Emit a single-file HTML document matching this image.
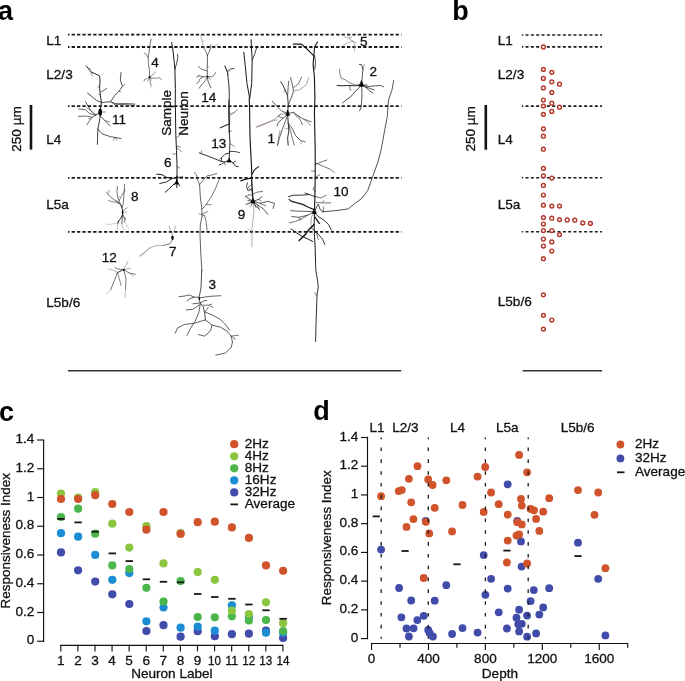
<!DOCTYPE html>
<html><head><meta charset="utf-8"><title>Figure</title>
<style>
html,body{margin:0;padding:0;background:#fff;}
body{width:685px;height:681px;overflow:hidden;}
svg{display:block;}
text{font-family:"Liberation Sans",sans-serif;fill:#111;}
.t{stroke:#111;stroke-width:0.3px;}
.t{font-size:13.55px;}
.pl{font-size:27px;font-weight:bold;fill:#000;}
.dash{stroke:#1a1a1a;stroke-width:1.8;stroke-dasharray:3.3 2.1;stroke-dashoffset:1.8;fill:none;}
.dashb{stroke:#1a1a1a;stroke-width:1.6;stroke-dasharray:3 2.33;stroke-dashoffset:1.7;fill:none;}
.ax{stroke:#111;stroke-width:1.15;fill:none;}
.n path{fill:none;stroke-linecap:round;stroke-linejoin:round;}
</style></head><body>
<svg width="685" height="681" viewBox="0 0 685 681">
<rect x="0" y="0" width="685" height="681" fill="#ffffff"/>
<text class="pl" x="-2.0" y="20.0" text-anchor="start">a</text>
<text class="pl" x="452.2" y="20.0" text-anchor="start">b</text>
<text class="pl" x="-1.1" y="420.8" text-anchor="start">c</text>
<text class="pl" x="313.2" y="419.9" text-anchor="start">d</text>
<g id="panel-a">
<path class="dash" d="M68 34.6 H401.5"/>
<path class="dash" d="M68 47.0 H401.5"/>
<path class="dash" d="M68 106.2 H401.5"/>
<path class="dash" d="M68 177.9 H401.5"/>
<path class="dash" d="M68 231.8 H401.5"/>
<path d="M68 370.7 H401.2" stroke="#333" stroke-width="1.6" fill="none"/>
<text class="t" x="46.3" y="44.8" text-anchor="start">L1</text>
<text class="t" x="46.3" y="78.8" text-anchor="start">L2/3</text>
<text class="t" x="46.3" y="143.8" text-anchor="start">L4</text>
<text class="t" x="46.3" y="209.3" text-anchor="start">L5a</text>
<text class="t" x="46.3" y="306.6" text-anchor="start">L5b/6</text>
<path d="M31 105 V149.6" stroke="#111" stroke-width="2.6" fill="none"/>
<text class="t" transform="translate(21.1 151.7) rotate(-90)" text-anchor="start">250 µm</text>
<text class="t" transform="translate(171.4 135.8) rotate(-90)" text-anchor="start">Sample</text>
<text class="t" transform="translate(187.9 135.7) rotate(-90)" text-anchor="start">Neuron</text>
<text class="t" x="267.6" y="142.8" text-anchor="start">1</text>
<text class="t" x="369.4" y="75.6" text-anchor="start">2</text>
<text class="t" x="208.4" y="289.1" text-anchor="start">3</text>
<text class="t" x="151.2" y="67.0" text-anchor="start">4</text>
<text class="t" x="360.1" y="45.9" text-anchor="start">5</text>
<text class="t" x="164.1" y="166.8" text-anchor="start">6</text>
<text class="t" x="169.1" y="256.2" text-anchor="start">7</text>
<text class="t" x="130.9" y="201.4" text-anchor="start">8</text>
<text class="t" x="237.8" y="219.3" text-anchor="start">9</text>
<text class="t" x="333.5" y="196.0" text-anchor="start">10</text>
<text class="t" x="112.0" y="124.4" text-anchor="start">11</text>
<text class="t" x="101.7" y="261.9" text-anchor="start">12</text>
<text class="t" x="211.3" y="147.6" text-anchor="start">13</text>
<text class="t" x="201.3" y="101.5" text-anchor="start">14</text>
<g class="n">
<path d="M100.2 110.1 L101.4 102.5 L100.4 95.5 L99.6 88.5 L100.0 80.1 L99.6 75.9 L95.1 73.8 L90.9 71.8 L88.2 68.3 L86.1 65.9" stroke="#1a1a1a" stroke-width="0.95"/>
<path d="M90.9 71.8 L92.3 76.2" stroke="#383838" stroke-width="0.55"/>
<path d="M88.2 68.3 L90.5 69.0" stroke="#383838" stroke-width="0.55"/>
<path d="M99.6 88.5 L97.6 86.0" stroke="#383838" stroke-width="0.55"/>
<path d="M101.0 92.0 L106.6 88.5" stroke="#1a1a1a" stroke-width="0.65"/>
<path d="M100.4 95.5 L98.3 94.1" stroke="#383838" stroke-width="0.55"/>
<path d="M101.4 102.5 L110.5 101.8 L114.7 95.5 L118.9 91.3 L122.4 86.4 L120.3 80.1 L121.0 72.5" stroke="#1a1a1a" stroke-width="0.75"/>
<path d="M122.4 86.4 L125.0 84.5" stroke="#383838" stroke-width="0.55"/>
<path d="M118.9 91.3 L121.1 91.7" stroke="#383838" stroke-width="0.55"/>
<path d="M110.5 101.8 L116.1 103.9 L125.8 103.6 L134.9 104.1" stroke="#1a1a1a" stroke-width="0.75"/>
<path d="M111.9 102.5 L118.2 107.1" stroke="#1a1a1a" stroke-width="0.65"/>
<path d="M116.1 104.1 L125.8 104.8 L134.5 105.4" stroke="#1a1a1a" stroke-width="0.65"/>
<path d="M101.4 102.5 L96.5 100.4 L92.3 96.9 L87.5 93.0" stroke="#1a1a1a" stroke-width="0.75"/>
<path d="M99.3 112.9 L95.8 115.0 L90.9 110.8 L87.5 105.3 L85.6 101.8" stroke="#1a1a1a" stroke-width="0.75"/>
<path d="M95.8 115.0 L89.5 113.6 L85.4 109.7 L78.4 108.9" stroke="#1a1a1a" stroke-width="0.65"/>
<path d="M90.9 110.8 L86.8 107.8" stroke="#383838" stroke-width="0.55"/>
<path d="M95.8 115.0 L92.3 117.1 L85.4 116.0 L78.4 116.4" stroke="#1a1a1a" stroke-width="0.65"/>
<path d="M92.3 117.1 L89.5 120.6 L87.0 124.5" stroke="#1a1a1a" stroke-width="0.65"/>
<path d="M90.9 118.5 L88.6 118.7" stroke="#383838" stroke-width="0.55"/>
<path d="M100.2 115.0 L99.3 122.0 L97.9 129.0 L97.6 137.4 L97.4 144.4" stroke="#1a1a1a" stroke-width="0.85"/>
<path d="M100.7 116.4 L104.9 120.6 L109.8 125.5" stroke="#1a1a1a" stroke-width="0.75"/>
<path d="M104.9 120.6 L109.9 122.0" stroke="#383838" stroke-width="0.55"/>
<path d="M97.9 129.0 L102.1 133.9 L110.5 136.7 L121.0 138.5" stroke="#1a1a1a" stroke-width="0.75"/>
<path d="M114.7 137.4 L113.6 140.4" stroke="#383838" stroke-width="0.55"/>
<path d="M115.4 137.7 L116.9 140.2" stroke="#383838" stroke-width="0.55"/>
<path d="M102.1 112.0 L105.6 112.0" stroke="#383838" stroke-width="0.55"/>
<ellipse cx="100.2" cy="112.2" rx="1.8" ry="3.6" fill="#000"/>
<path d="M171.7 42.5 L173.2 52.0 L174.4 63.8 L174.9 69.6 L175.4 88.7 L175.2 106.4" stroke="#1a1a1a" stroke-width="1.00"/>
<path d="M174.9 69.6 L176.9 62.3 L177.9 56.4 L177.3 54.2" stroke="#1a1a1a" stroke-width="0.80"/>
<path d="M224.9 66.0 L227.5 72.6 L229.0 85.8 L229.3 96.1 L229.0 106.4 L229.7 118.1 L229.1 132.8" stroke="#1a1a1a" stroke-width="0.90"/>
<path d="M227.5 72.6 L231.9 68.5 L234.1 68.9" stroke="#383838" stroke-width="0.60"/>
<path d="M229.7 114.0 L234.9 112.2" stroke="#7c7c7c" stroke-width="0.60"/>
<path d="M229.0 124.0 L224.6 126.2 L220.2 127.7" stroke="#383838" stroke-width="0.70"/>
<path d="M175.4 106.4 L175.8 134.6 L176.5 150.5 L177.0 164.6 L177.0 176.0 L176.7 181.3" stroke="#1a1a1a" stroke-width="1.00"/>
<path d="M175.8 138.1 L179.6 135.5" stroke="#383838" stroke-width="0.60"/>
<path d="M176.5 146.1 L180.5 147.0" stroke="#383838" stroke-width="0.60"/>
<path d="M177.0 147.8 L181.4 151.4" stroke="#383838" stroke-width="0.60"/>
<path d="M176.5 154.0 L172.6 154.0" stroke="#383838" stroke-width="0.60"/>
<path d="M177.0 166.3 L179.6 168.1" stroke="#383838" stroke-width="0.60"/>
<path d="M176.9 177.6 L172.2 178.4 L166.4 177.3 L162.0 174.7 L156.8 174.2" stroke="#1a1a1a" stroke-width="1.00"/>
<path d="M172.2 178.4 L166.4 182.0 L159.8 183.5" stroke="#1a1a1a" stroke-width="0.90"/>
<path d="M176.9 181.7 L172.2 185.7 L168.6 189.4 L165.2 192.3" stroke="#1a1a1a" stroke-width="1.00"/>
<path d="M176.9 181.7 L176.9 187.6" stroke="#1a1a1a" stroke-width="1.00"/>
<path d="M176.9 181.7 L179.7 185.8" stroke="#1a1a1a" stroke-width="0.90"/>
<path d="M176.9 177.6 L182.8 176.9" stroke="#1a1a1a" stroke-width="0.90"/>
<path d="M176.9 176.2 L176.9 182.0" stroke="#1a1a1a" stroke-width="1.20"/>
<path d="M176.9 182.0 L174.4 184.7" stroke="#1a1a1a" stroke-width="0.80"/>
<path d="M172.5 236.1 L171.5 232.7 L170.0 229.0 L169.3 226.1" stroke="#7c7c7c" stroke-width="0.60"/>
<path d="M172.2 233.4 L174.9 229.8 L175.2 226.1" stroke="#7c7c7c" stroke-width="0.60"/>
<path d="M172.5 239.6 L170.0 243.7 L163.4 245.5" stroke="#383838" stroke-width="0.70"/>
<path d="M163.4 245.5 L154.6 245.9 L148.7 248.8 L144.3 253.2 L139.9 256.2" stroke="#7c7c7c" stroke-width="0.60"/>
<path d="M176.9 180.1 L178.4 184.0 L175.5 184.0 Z" style="fill:#000" stroke="#000" stroke-width="0.7"/>
<ellipse cx="172.5" cy="237.8" rx="1.2" ry="2.2" fill="#000"/>
<path d="M123.7 269.8 L117.6 268.9 L115.0 267.7" stroke="#383838" stroke-width="0.70"/>
<path d="M123.7 269.8 L126.4 264.5 L128.1 261.0" stroke="#7c7c7c" stroke-width="0.60"/>
<path d="M123.7 269.8 L130.7 268.0" stroke="#7c7c7c" stroke-width="0.60"/>
<path d="M123.7 269.8 L129.9 273.3 L135.1 274.2" stroke="#383838" stroke-width="0.70"/>
<path d="M129.9 273.3 L133.4 275.9" stroke="#7c7c7c" stroke-width="0.60"/>
<path d="M123.7 269.8 L117.6 272.4 L114.1 281.2 L110.6 289.9" stroke="#383838" stroke-width="0.70"/>
<path d="M110.6 289.9 L106.2 294.3" stroke="#7c7c7c" stroke-width="0.50"/>
<path d="M117.6 272.4 L121.1 285.6" stroke="#383838" stroke-width="0.60"/>
<path d="M123.7 269.8 L126.0 278.5 L125.5 289.1" stroke="#383838" stroke-width="0.70"/>
<path d="M125.5 289.1 L125.0 297.8" stroke="#7c7c7c" stroke-width="0.50"/>
<path d="M117.6 272.4 L112.3 269.8 L108.8 268.9" stroke="#7c7c7c" stroke-width="0.60"/>
<path d="M121.1 270.7 L116.7 273.3" stroke="#383838" stroke-width="0.60"/>
<path d="M139.5 255.8 L144.8 252.3 L150.0 247.0" stroke="#7c7c7c" stroke-width="0.50"/>
<ellipse cx="123.7" cy="269.8" rx="0.9" ry="1.1" fill="#000"/>
<path d="M201.9 270.7 L200.8 253.1 L200.0 235.5 L200.3 224.9 L202.1 216.1 L201.7 207.3 L200.3 196.7 L199.6 184.4" stroke="#383838" stroke-width="0.80"/>
<path d="M199.6 184.4 L197.3 179.1 L196.4 174.7 L194.3 172.4" stroke="#383838" stroke-width="0.70"/>
<path d="M199.6 184.4 L202.6 180.9 L207.0 175.9 L213.2 174.7 L216.7 173.5" stroke="#383838" stroke-width="0.70"/>
<path d="M202.1 209.1 L206.1 204.6 L211.4 196.7 L215.8 187.9 L219.3 179.1" stroke="#383838" stroke-width="0.70"/>
<path d="M206.1 204.6 L211.4 204.6" stroke="#383838" stroke-width="0.60"/>
<path d="M202.1 214.3 L207.9 211.2" stroke="#383838" stroke-width="0.60"/>
<path d="M202.1 214.3 L199.1 214.0" stroke="#383838" stroke-width="0.60"/>
<path d="M202.1 216.1 L204.4 215.2 L206.1 221.4 L207.0 230.2" stroke="#383838" stroke-width="0.70"/>
<path d="M201.7 270.0 L201.4 278.8 L201.0 287.6 L199.9 293.5 L198.8 297.9 L200.2 303.0 L203.2 306.7 L204.6 312.6 L205.4 319.9" stroke="#383838" stroke-width="0.90"/>
<path d="M199.1 297.2 L194.4 297.2 L189.2 295.0 L184.1 296.1 L179.0 296.7" stroke="#383838" stroke-width="0.80"/>
<path d="M194.4 297.2 L190.0 298.6 L187.0 301.1" stroke="#383838" stroke-width="0.80"/>
<path d="M199.5 297.9 L209.1 296.4 L220.8 295.7" stroke="#383838" stroke-width="0.80"/>
<path d="M200.2 303.0 L192.9 303.8" stroke="#383838" stroke-width="0.80"/>
<path d="M200.2 303.0 L203.9 300.8 L206.9 300.5" stroke="#383838" stroke-width="0.80"/>
<path d="M203.2 305.2 L209.1 305.2 L212.7 307.4" stroke="#383838" stroke-width="0.70"/>
<path d="M209.1 305.2 L211.7 304.1" stroke="#383838" stroke-width="0.70"/>
<path d="M200.2 304.5 L196.6 306.7 L192.9 309.4 L186.3 309.9" stroke="#383838" stroke-width="0.80"/>
<path d="M200.2 304.5 L198.8 312.6 L195.1 321.4 L190.7 328.0 L187.0 335.3" stroke="#383838" stroke-width="0.80"/>
<path d="M205.4 319.9 L194.4 323.2 L184.1 324.6 L177.5 328.0 L175.3 333.1" stroke="#383838" stroke-width="0.80"/>
<path d="M204.6 312.6 L208.3 307.4" stroke="#383838" stroke-width="0.70"/>
<path d="M204.6 311.9 L212.0 314.8 L220.1 319.2 L225.9 325.1 L229.6 330.2" stroke="#383838" stroke-width="0.80"/>
<path d="M205.4 319.9 L212.0 325.1 L220.8 327.3 L226.7 330.9 L231.1 336.1 L232.5 342.0 L231.1 347.8 L225.2 353.0 L215.7 355.2" stroke="#383838" stroke-width="0.80"/>
<path d="M231.1 336.1 L238.4 335.3" stroke="#383838" stroke-width="0.70"/>
<path d="M231.1 336.1 L235.5 339.3" stroke="#383838" stroke-width="0.70"/>
<path d="M212.0 325.1 L210.5 330.9 L204.6 336.1 L198.5 334.6" stroke="#383838" stroke-width="0.80"/>
<ellipse cx="199.4" cy="298.6" rx="0.7" ry="1.2" fill="#000"/>
<path d="M229.2 158.8 L229.6 151.5 L229.9 142.3 L229.4 133.0 L229.0 123.8 L228.6 114.5 L229.0 100.0" stroke="#1a1a1a" stroke-width="0.90"/>
<path d="M229.0 115.9 L233.6 112.6 L237.6 109.9" stroke="#7c7c7c" stroke-width="0.60"/>
<path d="M229.0 123.8 L224.4 125.8 L220.4 127.8" stroke="#1a1a1a" stroke-width="0.80"/>
<path d="M229.6 131.7 L231.5 130.9" stroke="#383838" stroke-width="0.60"/>
<path d="M229.9 143.6 L234.3 146.3" stroke="#383838" stroke-width="0.60"/>
<path d="M229.6 151.5 L234.9 151.5 L239.6 152.6" stroke="#1a1a1a" stroke-width="0.80"/>
<path d="M229.6 152.9 L225.0 154.2 L221.7 157.5 L221.1 161.5" stroke="#1a1a1a" stroke-width="0.90"/>
<path d="M229.2 160.5 L224.4 162.1 L219.7 160.8 L209.8 156.8 L199.3 152.9" stroke="#1a1a1a" stroke-width="0.90"/>
<path d="M201.2 153.5 L201.6 150.9" stroke="#383838" stroke-width="0.60"/>
<path d="M224.4 162.1 L221.7 164.1 L219.1 165.0" stroke="#1a1a1a" stroke-width="0.80"/>
<path d="M229.2 160.5 L232.9 162.8 L235.6 166.1 L238.2 166.7" stroke="#1a1a1a" stroke-width="0.90"/>
<path d="M232.9 162.8 L235.6 161.1" stroke="#1a1a1a" stroke-width="0.80"/>
<path d="M221.7 157.5 L219.7 159.1" stroke="#383838" stroke-width="0.70"/>
<path d="M224.4 162.1 L225.2 165.0" stroke="#383838" stroke-width="0.70"/>
<path d="M249.2 98.4 L249.5 105.3 L249.7 119.8 L250.1 139.6 L250.8 152.9 L251.5 166.1 L251.8 178.0" stroke="#1a1a1a" stroke-width="1.15"/>
<path d="M252.1 174.0 L254.8 169.4 L258.7 166.7" stroke="#1a1a1a" stroke-width="0.90"/>
<path d="M251.6 178.0 L245.5 179.0 L240.9 180.6" stroke="#1a1a1a" stroke-width="0.90"/>
<path d="M277.2 119.8 L269.3 121.8 L262.7 125.1 L256.7 127.1" stroke="#8a7670" stroke-width="0.70"/>
<path d="M280.0 130.4 L278.3 139.6 L277.5 145.6" stroke="#8a7670" stroke-width="0.70"/>
<path d="M229.2 158.4 L231.1 162.1 L227.4 162.1 Z" style="fill:#000" stroke="#000" stroke-width="0.7"/>
<path d="M251.6 178.0 L252.3 191.4 L253.1 201.3" stroke="#1a1a1a" stroke-width="1.30"/>
<path d="M252.0 174.3 L254.6 169.6 L258.6 166.6" stroke="#1a1a1a" stroke-width="0.90"/>
<path d="M251.7 178.2 L246.1 179.3 L240.8 180.9" stroke="#1a1a1a" stroke-width="0.90"/>
<path d="M252.3 188.8 L248.0 190.8 L246.5 186.8 L247.4 182.8" stroke="#1a1a1a" stroke-width="0.80"/>
<path d="M252.7 194.1 L257.3 192.1 L262.6 191.4" stroke="#383838" stroke-width="0.70"/>
<path d="M252.3 191.4 L249.4 188.8" stroke="#383838" stroke-width="0.70"/>
<path d="M253.1 201.3 L248.7 198.7 L245.4 196.1" stroke="#1a1a1a" stroke-width="0.80"/>
<path d="M253.1 201.3 L249.4 203.3 L246.1 204.4" stroke="#1a1a1a" stroke-width="0.80"/>
<path d="M253.1 201.3 L248.0 200.7" stroke="#1a1a1a" stroke-width="0.80"/>
<path d="M253.1 201.3 L258.6 199.4 L261.9 196.7" stroke="#1a1a1a" stroke-width="0.80"/>
<path d="M253.1 201.3 L259.9 203.3 L267.9 201.3 L274.5 203.3 L273.1 208.6" stroke="#383838" stroke-width="0.80"/>
<path d="M253.1 201.3 L257.3 204.6 L263.9 209.3 L267.9 214.6" stroke="#383838" stroke-width="0.80"/>
<path d="M257.3 204.6 L259.3 209.9" stroke="#383838" stroke-width="0.70"/>
<path d="M259.9 203.3 L265.9 206.0" stroke="#383838" stroke-width="0.70"/>
<path d="M253.1 201.3 L256.0 207.3" stroke="#1a1a1a" stroke-width="0.80"/>
<path d="M253.3 203.3 L254.0 211.3 L252.7 221.8 L251.7 231.1 L252.0 241.6 L251.7 246.9" stroke="#7c7c7c" stroke-width="0.60"/>
<path d="M251.7 231.1 L248.0 229.1" stroke="#7c7c7c" stroke-width="0.50"/>
<path d="M252.3 184.8 L249.6 186.1 L247.5 189.1" stroke="#383838" stroke-width="0.70"/>
<path d="M252.5 195.4 L248.0 194.7 L245.7 197.0" stroke="#383838" stroke-width="0.70"/>
<path d="M253.1 201.3 L250.7 206.2" stroke="#383838" stroke-width="0.70"/>
<path d="M253.1 201.3 L254.9 204.9 L258.9 208.9" stroke="#383838" stroke-width="0.70"/>
<path d="M258.6 199.4 L261.3 200.9" stroke="#383838" stroke-width="0.60"/>
<path d="M253.1 198.7 L255.0 202.9 L251.1 202.9 Z" style="fill:#000" stroke="#000" stroke-width="0.7"/>
<path d="M249.7 98.4 L247.0 83.7 L245.3 66.1 L243.8 52.2" stroke="#1a1a1a" stroke-width="1.00"/>
<path d="M249.7 98.4 L251.7 83.7 L252.2 60.2 L251.4 47.0 L251.1 39.7" stroke="#1a1a1a" stroke-width="1.00"/>
<path d="M252.2 60.2 L255.1 52.9 L256.6 47.8" stroke="#1a1a1a" stroke-width="0.80"/>
<path d="M313.8 55.8 L309.4 51.4 L305.0 47.0 L301.4 44.1 L293.3 44.1" stroke="#1a1a1a" stroke-width="1.20"/>
<path d="M313.8 55.8 L314.6 47.0 L317.5 41.9" stroke="#1a1a1a" stroke-width="1.10"/>
<path d="M314.9 69.1 L315.5 61.7 L314.6 55.8" stroke="#1a1a1a" stroke-width="0.80"/>
<path d="M225.0 66.9 L227.2 70.5 L228.2 74.9" stroke="#383838" stroke-width="0.60"/>
<path d="M227.9 70.5 L230.9 68.8 L233.8 68.5" stroke="#383838" stroke-width="0.60"/>
<path d="M229.4 116.0 L233.8 113.1 L237.5 110.2" stroke="#7c7c7c" stroke-width="0.50"/>
<path d="M287.8 111.7 L288.2 104.1 L287.6 95.8 L285.2 90.0 L282.9 85.3 L280.8 81.7" stroke="#1a1a1a" stroke-width="0.90"/>
<path d="M285.2 90.0 L283.8 92.0" stroke="#383838" stroke-width="0.60"/>
<path d="M287.6 95.8 L288.2 86.4 L288.8 81.2" stroke="#383838" stroke-width="0.80"/>
<path d="M288.2 105.2 L291.1 98.2 L293.5 91.1 L292.3 84.1 L290.5 77.6" stroke="#383838" stroke-width="0.80"/>
<path d="M293.5 87.6 L298.2 84.1 L301.7 77.0" stroke="#383838" stroke-width="0.70"/>
<path d="M293.5 91.1 L300.5 89.4 L306.4 84.7 L308.7 77.6" stroke="#8a7670" stroke-width="0.70"/>
<path d="M287.8 113.5 L281.7 111.1 L277.0 106.4 L272.3 101.1" stroke="#383838" stroke-width="0.80"/>
<path d="M287.8 113.5 L280.5 114.1 L275.8 118.2 L270.0 121.7 L262.9 124.0 L256.5 127.0" stroke="#8a7670" stroke-width="0.70"/>
<path d="M280.5 114.1 L278.2 116.4 L282.9 118.2" stroke="#383838" stroke-width="0.70"/>
<path d="M287.8 114.6 L281.7 119.3 L278.2 122.9 L277.0 125.8" stroke="#383838" stroke-width="0.80"/>
<path d="M287.8 115.2 L285.2 121.7 L281.7 131.1 L279.4 138.1 L277.6 145.2" stroke="#383838" stroke-width="0.80"/>
<path d="M287.8 115.2 L288.2 122.9 L288.8 131.1 L287.6 138.1 L288.2 145.2" stroke="#1a1a1a" stroke-width="0.90"/>
<path d="M288.2 122.9 L290.5 131.1 L292.3 138.1 L294.4 145.2" stroke="#383838" stroke-width="0.70"/>
<path d="M288.2 122.9 L292.3 128.7 L295.8 135.8 L300.5 140.5 L305.2 141.9" stroke="#383838" stroke-width="0.80"/>
<path d="M300.5 140.5 L301.7 144.2" stroke="#7c7c7c" stroke-width="0.60"/>
<path d="M285.2 128.7 L287.6 128.7" stroke="#7c7c7c" stroke-width="0.60"/>
<path d="M287.8 113.5 L293.5 112.3 L298.2 115.8 L302.9 118.8 L307.6 120.5 L311.1 121.7" stroke="#383838" stroke-width="0.80"/>
<path d="M298.2 115.8 L300.5 120.5 L302.3 124.6" stroke="#383838" stroke-width="0.70"/>
<path d="M302.9 118.8 L308.7 122.9 L310.5 125.8" stroke="#8a7670" stroke-width="0.70"/>
<path d="M293.5 112.3 L297.0 117.0" stroke="#383838" stroke-width="0.70"/>
<path d="M287.8 110.4 L289.5 115.3 L286.2 115.3 Z" style="fill:#000" stroke="#000" stroke-width="0.7"/>
<path d="M314.5 212.9 L314.1 224.6 L314.5 236.4 L315.2 248.1 L315.5 261.3" stroke="#1a1a1a" stroke-width="1.00"/>
<path d="M315.5 164.4 L322.6 161.5 L327.0 160.0" stroke="#383838" stroke-width="0.70"/>
<path d="M315.5 162.9 L324.1 166.6 L330.7 169.5 L334.3 172.5" stroke="#383838" stroke-width="0.70"/>
<path d="M315.2 171.0 L311.6 171.0" stroke="#383838" stroke-width="0.70"/>
<path d="M315.2 177.6 L319.6 174.7" stroke="#383838" stroke-width="0.70"/>
<path d="M314.9 191.6 L313.0 189.4 L314.1 187.2" stroke="#383838" stroke-width="0.70"/>
<path d="M314.9 196.7 L309.4 194.5 L300.6 195.2 L293.2 195.2 L288.5 196.7" stroke="#1a1a1a" stroke-width="0.90"/>
<path d="M309.4 194.5 L305.0 193.0" stroke="#1a1a1a" stroke-width="0.80"/>
<path d="M314.5 209.9 L307.9 207.0 L302.0 204.1 L296.2 202.6 L291.0 201.1 L289.1 199.4" stroke="#1a1a1a" stroke-width="1.20"/>
<path d="M314.5 211.7 L306.4 211.4 L297.6 211.1 L290.6 210.7" stroke="#383838" stroke-width="0.80"/>
<path d="M314.5 211.7 L307.9 215.1 L299.1 217.3 L291.7 216.5" stroke="#383838" stroke-width="0.80"/>
<path d="M307.9 215.1 L302.0 218.7 L294.7 221.7 L289.5 222.8" stroke="#383838" stroke-width="0.70"/>
<path d="M299.1 217.3 L300.6 220.2" stroke="#383838" stroke-width="0.70"/>
<path d="M315.2 196.7 L321.1 197.9 L326.3 195.2" stroke="#383838" stroke-width="0.70"/>
<path d="M316.0 202.6 L324.1 202.9 L330.7 202.9" stroke="#383838" stroke-width="0.70"/>
<path d="M322.6 201.9 L324.1 200.4" stroke="#383838" stroke-width="0.60"/>
<path d="M315.2 209.9 L318.2 204.1 L320.4 209.9 L322.6 211.7" stroke="#1a1a1a" stroke-width="0.80"/>
<path d="M323.3 211.7 L323.3 207.0" stroke="#383838" stroke-width="0.70"/>
<path d="M314.5 212.9 L311.6 216.5 L310.8 224.6 L311.6 227.5" stroke="#7c7c7c" stroke-width="0.70"/>
<path d="M314.5 212.9 L318.2 216.5 L324.1 220.2 L328.5 224.6 L331.4 230.2" stroke="#1a1a1a" stroke-width="0.90"/>
<path d="M315.2 217.3 L318.5 222.4 L319.6 223.4" stroke="#1a1a1a" stroke-width="1.30"/>
<path d="M314.1 224.6 L309.4 229.0 L305.0 234.9 L299.1 240.5" stroke="#1a1a1a" stroke-width="1.50"/>
<path d="M291.0 229.0 L296.2 232.7 L303.5 237.1 L308.6 239.3 L312.6 241.5" stroke="#1a1a1a" stroke-width="1.00"/>
<path d="M314.5 230.5 L318.9 234.9 L322.6 239.3 L324.8 244.4" stroke="#1a1a1a" stroke-width="0.90"/>
<path d="M316.7 233.4 L318.2 239.3" stroke="#383838" stroke-width="0.70"/>
<path d="M314.5 230.5 L311.6 228.3" stroke="#1a1a1a" stroke-width="0.80"/>
<path d="M314.5 208.8 L316.4 213.4 L312.6 213.4 Z" style="fill:#000" stroke="#000" stroke-width="0.7"/>
<path d="M313.8 55.8 L313.1 64.6 L314.4 76.4 L314.9 98.0 L314.4 112.0 L314.7 127.0 L315.2 150.0 L315.2 177.6 L314.9 196.7 L314.5 210.0" stroke="#1a1a1a" stroke-width="1.15"/>
<path d="M315.5 260.0 L315.8 270.0 L317.5 280.0 L318.3 287.0 L317.0 295.0 L316.5 310.0 L316.0 325.0 L315.6 341.5" stroke="#1a1a1a" stroke-width="0.90"/>
<path d="M316.8 296.0 L314.6 292.5" stroke="#383838" stroke-width="0.60"/>
<path d="M393.7 80.5 L392.0 89.8 L388.5 100.0 L387.3 116.4 L384.2 132.9 L381.2 149.3 L378.1 161.6 L372.9 176.0 L367.8 190.4 L361.6 198.6 L354.4 203.8 L348.3 208.9 L337.0 210.5 L322.6 211.8" stroke="#1a1a1a" stroke-width="0.75"/>
<path d="M344.4 36.9 L348.4 38.2 L352.4 40.9 L356.3 42.8" stroke="#7c7c7c" stroke-width="0.60"/>
<path d="M348.4 34.9 L349.7 38.2 L351.7 36.9" stroke="#7c7c7c" stroke-width="0.60"/>
<path d="M352.4 40.9 L347.8 42.8 L343.8 44.6" stroke="#7c7c7c" stroke-width="0.50"/>
<path d="M352.4 40.9 L355.0 44.8 L354.4 48.1" stroke="#7c7c7c" stroke-width="0.60"/>
<path d="M354.4 48.1 L354.6 51.4" stroke="#7c7c7c" stroke-width="0.40"/>
<path d="M361.6 83.1 L362.3 76.5 L362.9 69.9 L361.6 64.6 L359.4 64.4" stroke="#1a1a1a" stroke-width="0.75"/>
<path d="M362.9 69.9 L364.3 64.6" stroke="#383838" stroke-width="0.55"/>
<path d="M361.6 85.1 L355.7 85.8 L349.1 85.5 L342.5 85.8 L337.2 85.5" stroke="#1a1a1a" stroke-width="0.95"/>
<path d="M350.4 85.5 L349.7 88.4 L350.7 90.4" stroke="#1a1a1a" stroke-width="0.65"/>
<path d="M361.6 84.5 L355.7 85.1 L350.4 83.1 L345.1 79.8 L341.1 77.9 L339.8 73.9 L339.6 69.3" stroke="#383838" stroke-width="0.65"/>
<path d="M361.0 85.5 L355.7 91.1 L350.4 97.0 L345.8 100.3 L342.5 103.0" stroke="#1a1a1a" stroke-width="0.75"/>
<path d="M361.6 85.8 L362.0 93.7 L361.6 101.6 L361.0 107.6 L359.6 110.9" stroke="#1a1a1a" stroke-width="0.75"/>
<path d="M362.3 85.1 L368.9 86.5 L375.5 85.8 L380.8 85.5 L383.4 86.8" stroke="#1a1a1a" stroke-width="0.75"/>
<path d="M365.6 86.5 L369.6 88.4 L374.2 89.8" stroke="#1a1a1a" stroke-width="0.75"/>
<path d="M365.6 86.8 L368.9 90.4 L372.9 93.1" stroke="#1a1a1a" stroke-width="0.75"/>
<path d="M362.3 85.1 L366.3 87.8" stroke="#1a1a1a" stroke-width="0.65"/>
<path d="M363.6 85.1 L366.9 84.5" stroke="#383838" stroke-width="0.55"/>
<path d="M361.6 80.8 L363.7 86.3 L359.5 86.3 Z" style="fill:#000" stroke="#000" stroke-width="0.7"/>
<path d="M122.5 209.9 L121.4 205.9 L119.4 203.4 L116.2 201.0" stroke="#1a1a1a" stroke-width="0.90"/>
<path d="M116.2 201.0 L112.1 198.2 L108.1 194.5 L106.5 192.1" stroke="#383838" stroke-width="0.70"/>
<path d="M119.4 203.4 L115.4 202.2 L111.3 201.4 L108.5 200.6" stroke="#383838" stroke-width="0.60"/>
<path d="M121.4 205.9 L119.0 201.0 L117.4 196.2 L117.0 191.3 L117.4 186.5" stroke="#383838" stroke-width="0.70"/>
<path d="M122.2 207.5 L123.4 202.6 L123.8 196.2 L124.2 190.5 L124.6 184.4" stroke="#383838" stroke-width="0.70"/>
<path d="M119.0 201.0 L121.0 197.0 L123.4 192.9 L125.1 189.7" stroke="#383838" stroke-width="0.60"/>
<path d="M117.4 196.2 L120.2 197.4" stroke="#7c7c7c" stroke-width="0.50"/>
<path d="M108.1 194.5 L109.7 190.9 L107.7 190.5" stroke="#7c7c7c" stroke-width="0.50"/>
<path d="M122.5 214.7 L121.0 218.0 L119.0 220.4 L117.8 223.6" stroke="#1a1a1a" stroke-width="0.90"/>
<path d="M117.8 223.6 L117.4 226.9 L117.0 230.1" stroke="#7c7c7c" stroke-width="0.50"/>
<path d="M122.5 214.7 L122.2 218.8 L121.8 223.6" stroke="#383838" stroke-width="0.80"/>
<path d="M121.8 223.6 L122.6 227.7 L123.8 229.7" stroke="#7c7c7c" stroke-width="0.50"/>
<path d="M123.0 214.7 L124.2 218.0 L125.1 220.4 L124.2 222.0" stroke="#383838" stroke-width="0.80"/>
<path d="M124.2 218.0 L125.9 218.8" stroke="#383838" stroke-width="0.60"/>
<path d="M123.4 210.7 L125.9 208.3 L127.1 207.9" stroke="#383838" stroke-width="0.60"/>
<path d="M119.0 220.4 L117.4 222.0" stroke="#383838" stroke-width="0.60"/>
<path d="M125.1 222.0 L127.5 226.9 L129.1 229.3" stroke="#7c7c7c" stroke-width="0.40"/>
<path d="M116.2 223.2 L109.7 224.4 L105.7 224.3" stroke="#7c7c7c" stroke-width="0.35"/>
<path d="M124.2 212.3 L126.7 211.9" stroke="#7c7c7c" stroke-width="0.50"/>
<ellipse cx="122.6" cy="212.3" rx="0.8" ry="2.4" fill="#000"/>
<path d="M207.4 75.3 L207.2 68.2 L207.4 60.5 L207.4 55.3" stroke="#383838" stroke-width="0.80"/>
<path d="M207.4 55.3 L205.3 50.5 L203.4 47.2" stroke="#383838" stroke-width="0.70"/>
<path d="M203.4 47.2 L202.4 42.4 L201.0 36.7 L200.3 34.8" stroke="#7c7c7c" stroke-width="0.50"/>
<path d="M207.4 55.3 L209.6 51.0 L210.5 47.7 L210.8 44.8" stroke="#383838" stroke-width="0.70"/>
<path d="M210.0 49.1 L212.9 47.2 L215.8 45.7 L218.1 44.3" stroke="#7c7c7c" stroke-width="0.50"/>
<path d="M202.4 41.5 L204.8 40.7" stroke="#7c7c7c" stroke-width="0.40"/>
<path d="M207.2 71.0 L201.5 69.1 L198.1 66.3" stroke="#383838" stroke-width="0.70"/>
<path d="M207.4 76.6 L203.4 76.8 L199.5 75.8 L196.7 77.2" stroke="#383838" stroke-width="0.70"/>
<path d="M203.4 76.8 L200.0 78.7 L198.6 82.0 L196.7 83.4" stroke="#383838" stroke-width="0.70"/>
<path d="M199.5 75.8 L198.1 75.2" stroke="#383838" stroke-width="0.50"/>
<path d="M207.4 76.6 L205.3 80.6 L201.9 84.4 L199.1 88.2" stroke="#383838" stroke-width="0.70"/>
<path d="M207.4 77.7 L208.1 81.5 L209.6 84.9 L210.8 87.7" stroke="#383838" stroke-width="0.80"/>
<path d="M207.4 76.6 L211.5 76.8 L213.9 75.3 L215.6 72.5" stroke="#383838" stroke-width="0.70"/>
<path d="M208.1 77.2 L210.5 79.3" stroke="#383838" stroke-width="0.60"/>
<path d="M207.4 66.3 L208.7 67.2" stroke="#383838" stroke-width="0.50"/>
<ellipse cx="207.4" cy="76.6" rx="0.9" ry="1.0" fill="#000"/>
<path d="M149.5 76.3 L149.5 70.1 L148.4 63.4 L148.2 57.7 L149.1 51.9 L149.8 45.3 L151.2 39.1" stroke="#383838" stroke-width="0.70"/>
<path d="M148.2 57.7 L146.3 54.3 L144.1 52.9" stroke="#383838" stroke-width="0.60"/>
<path d="M149.5 77.2 L146.5 78.7 L144.4 79.6 L144.1 81.0" stroke="#383838" stroke-width="0.60"/>
<path d="M149.5 77.2 L152.7 78.2 L156.9 78.2 L159.8 77.7 L161.2 79.6" stroke="#383838" stroke-width="0.60"/>
<path d="M149.5 77.2 L152.7 74.8 L155.5 72.0" stroke="#383838" stroke-width="0.60"/>
<path d="M149.5 77.2 L150.3 81.5 L151.0 85.3" stroke="#383838" stroke-width="0.60"/>
<path d="M151.0 85.3 L150.7 88.2" stroke="#7c7c7c" stroke-width="0.40"/>
<path d="M149.3 78.2 L147.4 81.5" stroke="#383838" stroke-width="0.50"/>
<path d="M149.5 77.2 L151.7 80.3" stroke="#383838" stroke-width="0.50"/>
<ellipse cx="149.5" cy="77.2" rx="0.9" ry="1.0" fill="#000"/>
</g>
</g>
<g id="panel-b">
<path class="dashb" d="M521.9 35.0 H602.1"/>
<path class="dashb" d="M521.9 46.9 H602.1"/>
<path class="dashb" d="M521.9 106.1 H602.1"/>
<path class="dashb" d="M521.9 177.8 H602.1"/>
<path class="dashb" d="M521.9 231.7 H602.1"/>
<path d="M522.6 370.7 H602.1" stroke="#333" stroke-width="1.6" fill="none"/>
<text class="t" x="497.8" y="45.0" text-anchor="start">L1</text>
<text class="t" x="497.8" y="78.5" text-anchor="start">L2/3</text>
<text class="t" x="497.8" y="144.0" text-anchor="start">L4</text>
<text class="t" x="497.8" y="209.3" text-anchor="start">L5a</text>
<text class="t" x="497.8" y="306.3" text-anchor="start">L5b/6</text>
<path d="M485.8 105 V149.7" stroke="#111" stroke-width="2.6" fill="none"/>
<text class="t" transform="translate(475.4 151.6) rotate(-90)" text-anchor="start">250 µm</text>
<g fill="#fff" stroke="#b5372b" stroke-width="1.45">
<circle cx="543.4" cy="46.9" r="1.9"/>
<circle cx="543.4" cy="69.4" r="1.9"/>
<circle cx="543.4" cy="78.4" r="1.9"/>
<circle cx="543.4" cy="87.9" r="1.9"/>
<circle cx="543.4" cy="100.0" r="1.9"/>
<circle cx="543.4" cy="106.1" r="1.9"/>
<circle cx="543.4" cy="114.3" r="1.9"/>
<circle cx="543.4" cy="128.8" r="1.9"/>
<circle cx="543.4" cy="136.2" r="1.9"/>
<circle cx="543.4" cy="149.2" r="1.9"/>
<circle cx="543.4" cy="168.4" r="1.9"/>
<circle cx="543.4" cy="175.8" r="1.9"/>
<circle cx="543.4" cy="185.4" r="1.9"/>
<circle cx="543.4" cy="195.0" r="1.9"/>
<circle cx="543.4" cy="205.2" r="1.9"/>
<circle cx="543.4" cy="217.6" r="1.9"/>
<circle cx="543.4" cy="224.0" r="1.9"/>
<circle cx="543.4" cy="230.5" r="1.9"/>
<circle cx="543.4" cy="239.0" r="1.9"/>
<circle cx="543.4" cy="246.0" r="1.9"/>
<circle cx="543.4" cy="258.7" r="1.9"/>
<circle cx="543.4" cy="294.8" r="1.9"/>
<circle cx="543.4" cy="315.3" r="1.9"/>
<circle cx="543.4" cy="329.1" r="1.9"/>
<circle cx="551.8" cy="72.3" r="1.9"/>
<circle cx="551.8" cy="81.8" r="1.9"/>
<circle cx="551.8" cy="92.4" r="1.9"/>
<circle cx="551.8" cy="103.2" r="1.9"/>
<circle cx="551.8" cy="111.4" r="1.9"/>
<circle cx="551.8" cy="178.0" r="1.9"/>
<circle cx="551.8" cy="206.1" r="1.9"/>
<circle cx="551.8" cy="218.2" r="1.9"/>
<circle cx="551.8" cy="230.5" r="1.9"/>
<circle cx="551.8" cy="241.9" r="1.9"/>
<circle cx="551.8" cy="251.0" r="1.9"/>
<circle cx="551.8" cy="320.0" r="1.9"/>
<circle cx="559.5" cy="84.2" r="1.9"/>
<circle cx="559.5" cy="107.2" r="1.9"/>
<circle cx="559.5" cy="206.1" r="1.9"/>
<circle cx="559.5" cy="219.6" r="1.9"/>
<circle cx="559.5" cy="234.6" r="1.9"/>
<circle cx="567.2" cy="219.9" r="1.9"/>
<circle cx="574.8" cy="220.2" r="1.9"/>
<circle cx="582.7" cy="222.9" r="1.9"/>
<circle cx="590.4" cy="223.4" r="1.9"/>
</g></g>
<g id="panel-c">
<path class="ax" d="M43.6 440 V641.8"/>
<path class="ax" d="M37.2 641.25 H44.2"/>
<text class="t" x="34.4" y="644.4" text-anchor="end">0</text>
<path class="ax" d="M37.2 612.50 H44.2"/>
<text class="t" x="34.4" y="615.6" text-anchor="end">0.2</text>
<path class="ax" d="M37.2 583.75 H44.2"/>
<text class="t" x="34.4" y="586.9" text-anchor="end">0.4</text>
<path class="ax" d="M37.2 555.00 H44.2"/>
<text class="t" x="34.4" y="558.1" text-anchor="end">0.6</text>
<path class="ax" d="M37.2 526.25 H44.2"/>
<text class="t" x="34.4" y="529.4" text-anchor="end">0.8</text>
<path class="ax" d="M37.2 497.50 H44.2"/>
<text class="t" x="34.4" y="500.6" text-anchor="end">1</text>
<path class="ax" d="M37.2 468.75 H44.2"/>
<text class="t" x="34.4" y="471.9" text-anchor="end">1.2</text>
<path class="ax" d="M37.2 440.00 H44.2"/>
<text class="t" x="34.4" y="443.1" text-anchor="end">1.4</text>
<path class="ax" d="M60.7 645.4 H282.9"/>
<path class="ax" d="M60.80 644.8 V651.4"/>
<text class="t" x="60.8" y="665.2" text-anchor="middle">1</text>
<path class="ax" d="M77.88 644.8 V651.4"/>
<text class="t" x="77.9" y="665.2" text-anchor="middle">2</text>
<path class="ax" d="M94.97 644.8 V651.4"/>
<text class="t" x="95.0" y="665.2" text-anchor="middle">3</text>
<path class="ax" d="M112.06 644.8 V651.4"/>
<text class="t" x="112.1" y="665.2" text-anchor="middle">4</text>
<path class="ax" d="M129.14 644.8 V651.4"/>
<text class="t" x="129.1" y="665.2" text-anchor="middle">5</text>
<path class="ax" d="M146.23 644.8 V651.4"/>
<text class="t" x="146.2" y="665.2" text-anchor="middle">6</text>
<path class="ax" d="M163.31 644.8 V651.4"/>
<text class="t" x="163.3" y="665.2" text-anchor="middle">7</text>
<path class="ax" d="M180.39 644.8 V651.4"/>
<text class="t" x="180.4" y="665.2" text-anchor="middle">8</text>
<path class="ax" d="M197.48 644.8 V651.4"/>
<text class="t" x="197.5" y="665.2" text-anchor="middle">9</text>
<path class="ax" d="M214.56 644.8 V651.4"/>
<text class="t" x="214.6" y="665.2" text-anchor="middle" textLength="13" lengthAdjust="spacingAndGlyphs">10</text>
<path class="ax" d="M231.65 644.8 V651.4"/>
<text class="t" x="231.7" y="665.2" text-anchor="middle" textLength="13" lengthAdjust="spacingAndGlyphs">11</text>
<path class="ax" d="M248.74 644.8 V651.4"/>
<text class="t" x="248.7" y="665.2" text-anchor="middle" textLength="13" lengthAdjust="spacingAndGlyphs">12</text>
<path class="ax" d="M265.82 644.8 V651.4"/>
<text class="t" x="265.8" y="665.2" text-anchor="middle" textLength="13" lengthAdjust="spacingAndGlyphs">13</text>
<path class="ax" d="M282.91 644.8 V651.4"/>
<text class="t" x="282.9" y="665.2" text-anchor="middle" textLength="13" lengthAdjust="spacingAndGlyphs">14</text>
<text class="t" x="171.9" y="677.6" text-anchor="middle">Neuron Label</text>
<text class="t" transform="translate(10.0 608.4) rotate(-90)" text-anchor="start" textLength="135.4" lengthAdjust="spacingAndGlyphs">Responsiveness Index</text>
<g fill="#414ba9">
<circle cx="61.0" cy="552.4" r="4.1"/>
<circle cx="78.1" cy="570.3" r="4.1"/>
<circle cx="95.2" cy="581.6" r="4.1"/>
<circle cx="112.3" cy="594.3" r="4.1"/>
<circle cx="129.3" cy="604.0" r="4.1"/>
<circle cx="146.4" cy="631.0" r="4.1"/>
<circle cx="163.5" cy="625.2" r="4.1"/>
<circle cx="180.6" cy="636.7" r="4.1"/>
<circle cx="197.7" cy="631.2" r="4.1"/>
<circle cx="214.8" cy="636.2" r="4.1"/>
<circle cx="231.9" cy="634.2" r="4.1"/>
<circle cx="248.9" cy="633.7" r="4.1"/>
<circle cx="266.0" cy="630.7" r="4.1"/>
<circle cx="283.1" cy="638.0" r="4.1"/>
</g>
<g fill="#1c8dd4">
<circle cx="61.0" cy="533.2" r="4.1"/>
<circle cx="78.1" cy="536.7" r="4.1"/>
<circle cx="95.2" cy="554.9" r="4.1"/>
<circle cx="112.3" cy="579.8" r="4.1"/>
<circle cx="129.3" cy="573.1" r="4.1"/>
<circle cx="146.4" cy="621.3" r="4.1"/>
<circle cx="163.5" cy="607.5" r="4.1"/>
<circle cx="180.6" cy="627.7" r="4.1"/>
<circle cx="197.7" cy="626.7" r="4.1"/>
<circle cx="214.8" cy="630.7" r="4.1"/>
<circle cx="231.9" cy="605.3" r="4.1"/>
<circle cx="248.9" cy="616.8" r="4.1"/>
<circle cx="266.0" cy="632.7" r="4.1"/>
<circle cx="283.1" cy="632.7" r="4.1"/>
</g>
<g fill="#4cb64c">
<circle cx="61.0" cy="517.0" r="4.1"/>
<circle cx="78.1" cy="508.7" r="4.1"/>
<circle cx="95.2" cy="533.7" r="4.1"/>
<circle cx="112.3" cy="565.4" r="4.1"/>
<circle cx="129.3" cy="569.1" r="4.1"/>
<circle cx="146.4" cy="587.8" r="4.1"/>
<circle cx="163.5" cy="601.5" r="4.1"/>
<circle cx="180.6" cy="581.1" r="4.1"/>
<circle cx="197.7" cy="617.0" r="4.1"/>
<circle cx="214.8" cy="617.3" r="4.1"/>
<circle cx="231.9" cy="616.3" r="4.1"/>
<circle cx="248.9" cy="620.5" r="4.1"/>
<circle cx="266.0" cy="620.0" r="4.1"/>
<circle cx="283.1" cy="631.0" r="4.1"/>
</g>
<g fill="#8cc63f">
<circle cx="61.0" cy="493.5" r="4.1"/>
<circle cx="78.1" cy="497.5" r="4.1"/>
<circle cx="95.2" cy="492.0" r="4.1"/>
<circle cx="112.3" cy="523.7" r="4.1"/>
<circle cx="129.3" cy="547.6" r="4.1"/>
<circle cx="146.4" cy="526.2" r="4.1"/>
<circle cx="163.5" cy="563.4" r="4.1"/>
<circle cx="180.6" cy="533.0" r="4.1"/>
<circle cx="197.7" cy="572.1" r="4.1"/>
<circle cx="214.8" cy="579.8" r="4.1"/>
<circle cx="231.9" cy="610.5" r="4.1"/>
<circle cx="248.9" cy="614.0" r="4.1"/>
<circle cx="266.0" cy="602.3" r="4.1"/>
<circle cx="283.1" cy="623.2" r="4.1"/>
</g>
<g fill="#d0532b">
<circle cx="61.0" cy="499.0" r="4.1"/>
<circle cx="78.1" cy="499.0" r="4.1"/>
<circle cx="95.2" cy="495.2" r="4.1"/>
<circle cx="112.3" cy="504.0" r="4.1"/>
<circle cx="129.3" cy="512.0" r="4.1"/>
<circle cx="146.4" cy="529.7" r="4.1"/>
<circle cx="163.5" cy="512.0" r="4.1"/>
<circle cx="180.6" cy="533.9" r="4.1"/>
<circle cx="197.7" cy="522.2" r="4.1"/>
<circle cx="214.8" cy="521.7" r="4.1"/>
<circle cx="231.9" cy="527.4" r="4.1"/>
<circle cx="248.9" cy="537.9" r="4.1"/>
<circle cx="266.0" cy="565.4" r="4.1"/>
<circle cx="283.1" cy="570.8" r="4.1"/>
</g>
<g stroke="#151515" stroke-width="1.8" fill="none">
<path d="M57.3 518.9 h7.4"/>
<path d="M74.4 522.4 h7.4"/>
<path d="M91.5 531.7 h7.4"/>
<path d="M108.6 553.4 h7.4"/>
<path d="M125.6 561.1 h7.4"/>
<path d="M142.7 579.3 h7.4"/>
<path d="M159.8 581.8 h7.4"/>
<path d="M176.9 582.3 h7.4"/>
<path d="M194.0 594.0 h7.4"/>
<path d="M211.1 597.0 h7.4"/>
<path d="M228.2 598.8 h7.4"/>
<path d="M245.2 604.5 h7.4"/>
<path d="M262.3 610.3 h7.4"/>
<path d="M279.4 618.8 h7.4"/>
</g>
<circle cx="234.2" cy="444.2" r="4.1" fill="#d0532b"/>
<circle cx="234.2" cy="456.3" r="4.1" fill="#8cc63f"/>
<circle cx="234.2" cy="468.3" r="4.1" fill="#4cb64c"/>
<circle cx="234.2" cy="480.4" r="4.1" fill="#1c8dd4"/>
<circle cx="234.2" cy="492.4" r="4.1" fill="#414ba9"/>
<path d="M230.5 504.4 h7.5" stroke="#151515" stroke-width="1.8"/>
<text class="t" x="244.8" y="448.0" text-anchor="start">2Hz</text>
<text class="t" x="244.8" y="459.9" text-anchor="start">4Hz</text>
<text class="t" x="244.8" y="471.9" text-anchor="start">8Hz</text>
<text class="t" x="244.8" y="483.9" text-anchor="start">16Hz</text>
<text class="t" x="244.8" y="495.9" text-anchor="start">32Hz</text>
<text class="t" x="244.8" y="507.9" text-anchor="start">Average</text>
</g>
<g id="panel-d">
<path class="ax" d="M367.5 437.5 V639.1"/>
<path class="ax" d="M361 638.60 H368.1"/>
<text class="t" x="358.3" y="641.6" text-anchor="end">0</text>
<path class="ax" d="M361 609.87 H368.1"/>
<text class="t" x="358.3" y="612.9" text-anchor="end">0.2</text>
<path class="ax" d="M361 581.14 H368.1"/>
<text class="t" x="358.3" y="584.1" text-anchor="end">0.4</text>
<path class="ax" d="M361 552.41 H368.1"/>
<text class="t" x="358.3" y="555.4" text-anchor="end">0.6</text>
<path class="ax" d="M361 523.68 H368.1"/>
<text class="t" x="358.3" y="526.7" text-anchor="end">0.8</text>
<path class="ax" d="M361 494.95 H368.1"/>
<text class="t" x="358.3" y="498.0" text-anchor="end">1</text>
<path class="ax" d="M361 466.22 H368.1"/>
<text class="t" x="358.3" y="469.2" text-anchor="end">1.2</text>
<path class="ax" d="M361 437.49 H368.1"/>
<text class="t" x="358.3" y="440.5" text-anchor="end">1.4</text>
<path class="ax" d="M371.5 643.5 H627.9"/>
<path class="ax" d="M371.55 642.9 V650.0"/>
<text class="t" x="371.6" y="663.2" text-anchor="middle">0</text>
<path class="ax" d="M400.01 642.9 V647.8"/>
<path class="ax" d="M428.47 642.9 V650.0"/>
<text class="t" x="428.5" y="663.2" text-anchor="middle">400</text>
<path class="ax" d="M456.93 642.9 V647.8"/>
<path class="ax" d="M485.39 642.9 V650.0"/>
<text class="t" x="485.4" y="663.2" text-anchor="middle">800</text>
<path class="ax" d="M513.85 642.9 V647.8"/>
<path class="ax" d="M542.31 642.9 V650.0"/>
<text class="t" x="542.3" y="663.2" text-anchor="middle">1200</text>
<path class="ax" d="M570.77 642.9 V647.8"/>
<path class="ax" d="M599.23 642.9 V650.0"/>
<text class="t" x="599.2" y="663.2" text-anchor="middle">1600</text>
<path class="ax" d="M627.69 642.9 V647.8"/>
<text class="t" x="499.9" y="677.8" text-anchor="middle">Depth</text>
<text class="t" transform="translate(331.4 605.2) rotate(-90)" text-anchor="start" textLength="134.8" lengthAdjust="spacingAndGlyphs">Responsiveness Index</text>
<text class="t" x="369.5" y="432.4" text-anchor="start">L1</text>
<text class="t" x="392.2" y="432.4" text-anchor="start">L2/3</text>
<text class="t" x="449.9" y="432.4" text-anchor="start">L4</text>
<text class="t" x="496.0" y="432.4" text-anchor="start">L5a</text>
<text class="t" x="560.7" y="432.4" text-anchor="start">L5b/6</text>
<g fill="#414ba9">
<circle cx="381.1" cy="549.6" r="3.9"/>
<circle cx="399.1" cy="588.0" r="3.9"/>
<circle cx="411.2" cy="600.5" r="3.9"/>
<circle cx="401.4" cy="617.3" r="3.9"/>
<circle cx="423.7" cy="615.8" r="3.9"/>
<circle cx="417.3" cy="620.1" r="3.9"/>
<circle cx="406.5" cy="628.5" r="3.9"/>
<circle cx="413.6" cy="628.3" r="3.9"/>
<circle cx="408.9" cy="636.5" r="3.9"/>
<circle cx="428.2" cy="629.9" r="3.9"/>
<circle cx="429.6" cy="633.0" r="3.9"/>
<circle cx="432.9" cy="636.5" r="3.9"/>
<circle cx="434.7" cy="600.7" r="3.9"/>
<circle cx="446.3" cy="585.2" r="3.9"/>
<circle cx="452.1" cy="634.0" r="3.9"/>
<circle cx="462.5" cy="628.1" r="3.9"/>
<circle cx="477.6" cy="632.6" r="3.9"/>
<circle cx="483.7" cy="555.1" r="3.9"/>
<circle cx="491.1" cy="578.8" r="3.9"/>
<circle cx="485.4" cy="594.8" r="3.9"/>
<circle cx="498.7" cy="612.3" r="3.9"/>
<circle cx="425.7" cy="521.0" r="3.9"/>
<circle cx="507.7" cy="484.3" r="3.9"/>
<circle cx="517.2" cy="521.0" r="3.9"/>
<circle cx="521.0" cy="541.4" r="3.9"/>
<circle cx="578.0" cy="542.7" r="3.9"/>
<circle cx="521.6" cy="566.6" r="3.9"/>
<circle cx="598.2" cy="578.8" r="3.9"/>
<circle cx="507.7" cy="588.6" r="3.9"/>
<circle cx="533.8" cy="590.1" r="3.9"/>
<circle cx="549.2" cy="588.2" r="3.9"/>
<circle cx="530.6" cy="601.1" r="3.9"/>
<circle cx="543.2" cy="607.4" r="3.9"/>
<circle cx="519.1" cy="609.7" r="3.9"/>
<circle cx="539.3" cy="614.6" r="3.9"/>
<circle cx="527.1" cy="615.6" r="3.9"/>
<circle cx="516.5" cy="617.7" r="3.9"/>
<circle cx="521.8" cy="623.8" r="3.9"/>
<circle cx="518.3" cy="624.2" r="3.9"/>
<circle cx="506.9" cy="628.5" r="3.9"/>
<circle cx="519.1" cy="631.4" r="3.9"/>
<circle cx="536.1" cy="633.4" r="3.9"/>
<circle cx="527.1" cy="636.7" r="3.9"/>
<circle cx="605.4" cy="635.4" r="3.9"/>
</g>
<g fill="#d0532b">
<circle cx="381.1" cy="496.2" r="3.9"/>
<circle cx="398.7" cy="491.1" r="3.9"/>
<circle cx="401.8" cy="490.1" r="3.9"/>
<circle cx="408.9" cy="478.8" r="3.9"/>
<circle cx="417.5" cy="466.2" r="3.9"/>
<circle cx="411.2" cy="502.3" r="3.9"/>
<circle cx="413.4" cy="519.1" r="3.9"/>
<circle cx="406.5" cy="526.9" r="3.9"/>
<circle cx="428.2" cy="479.4" r="3.9"/>
<circle cx="432.6" cy="485.0" r="3.9"/>
<circle cx="446.3" cy="480.3" r="3.9"/>
<circle cx="434.7" cy="507.9" r="3.9"/>
<circle cx="425.9" cy="521.8" r="3.9"/>
<circle cx="429.2" cy="533.4" r="3.9"/>
<circle cx="452.1" cy="531.4" r="3.9"/>
<circle cx="462.5" cy="505.0" r="3.9"/>
<circle cx="477.6" cy="476.6" r="3.9"/>
<circle cx="485.2" cy="467.0" r="3.9"/>
<circle cx="491.1" cy="492.5" r="3.9"/>
<circle cx="483.7" cy="511.9" r="3.9"/>
<circle cx="498.7" cy="504.2" r="3.9"/>
<circle cx="423.7" cy="578.0" r="3.9"/>
<circle cx="519.1" cy="454.9" r="3.9"/>
<circle cx="527.1" cy="472.3" r="3.9"/>
<circle cx="521.0" cy="498.9" r="3.9"/>
<circle cx="521.8" cy="505.6" r="3.9"/>
<circle cx="549.2" cy="498.2" r="3.9"/>
<circle cx="530.6" cy="508.9" r="3.9"/>
<circle cx="534.0" cy="510.3" r="3.9"/>
<circle cx="543.2" cy="511.7" r="3.9"/>
<circle cx="507.7" cy="514.6" r="3.9"/>
<circle cx="536.1" cy="518.9" r="3.9"/>
<circle cx="517.3" cy="522.2" r="3.9"/>
<circle cx="521.8" cy="524.4" r="3.9"/>
<circle cx="539.3" cy="530.9" r="3.9"/>
<circle cx="519.1" cy="534.4" r="3.9"/>
<circle cx="516.5" cy="535.6" r="3.9"/>
<circle cx="507.7" cy="540.6" r="3.9"/>
<circle cx="578.0" cy="490.1" r="3.9"/>
<circle cx="598.2" cy="492.5" r="3.9"/>
<circle cx="594.5" cy="514.8" r="3.9"/>
<circle cx="506.9" cy="562.5" r="3.9"/>
<circle cx="527.1" cy="563.5" r="3.9"/>
<circle cx="605.4" cy="568.2" r="3.9"/>
</g>
<path d="M381.2 437.5 V638.8" stroke="#1a1a1a" stroke-width="1.3" stroke-dasharray="3.6 8.22" stroke-dashoffset="1.8" fill="none"/>
<path d="M428.3 437.5 V638.8" stroke="#1a1a1a" stroke-width="1.3" stroke-dasharray="3.6 8.22" stroke-dashoffset="1.8" fill="none"/>
<path d="M485.4 437.5 V638.8" stroke="#1a1a1a" stroke-width="1.3" stroke-dasharray="3.6 8.22" stroke-dashoffset="1.8" fill="none"/>
<path d="M528.2 437.5 V638.8" stroke="#1a1a1a" stroke-width="1.3" stroke-dasharray="3.6 8.22" stroke-dashoffset="1.8" fill="none"/>
<g stroke="#151515" stroke-width="1.8" fill="none">
<path d="M372.6 516.4 h7.2"/>
<path d="M401.5 551.0 h7.2"/>
<path d="M453.4 564.3 h7.2"/>
<path d="M503.3 550.6 h7.2"/>
<path d="M574.4 556.1 h7.2"/>
</g>
<circle cx="620.4" cy="444.5" r="3.9" fill="#d0532b"/>
<circle cx="620.4" cy="458.4" r="3.9" fill="#414ba9"/>
<path d="M617 472.3 h7.5" stroke="#151515" stroke-width="1.8"/>
<text class="t" x="635.0" y="448.0" text-anchor="start">2Hz</text>
<text class="t" x="635.0" y="461.9" text-anchor="start">32Hz</text>
<text class="t" x="635.0" y="475.7" text-anchor="start">Average</text>
</g>
</svg></body></html>
